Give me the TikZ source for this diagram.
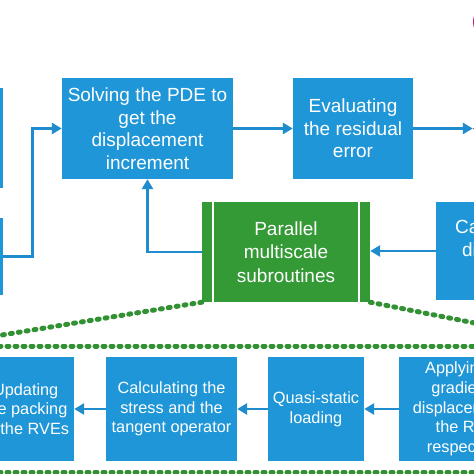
\documentclass[tikz,border=0pt]{standalone}
\usepackage{fontspec}
\setmainfont{Liberation Sans}
\usetikzlibrary{arrows.meta,shapes.geometric}
\definecolor{boxblue}{RGB}{31,150,215}
\definecolor{lineblue}{RGB}{30,140,205}
\definecolor{boxgreen}{RGB}{52,154,54}
\definecolor{dashgreen}{RGB}{50,145,50}
\definecolor{magent}{RGB}{190,30,115}
\begin{document}
\begin{tikzpicture}[x=1pt,y=-1pt,
  bigbox/.style={draw=none,fill=boxblue,text=white,align=center,inner sep=0pt,
    minimum height=101pt,font=\fontsize{19}{22.5}\selectfont},
  smallbox/.style={draw=none,fill=boxblue,text=white,align=center,inner sep=0pt,
    minimum height=104pt,font=\fontsize{16.3}{19.7}\selectfont},
  greenbox/.style={draw=none,fill=boxgreen,text=white,align=center,inner sep=0pt,
    minimum width=168pt,minimum height=100pt,font=\fontsize{19}{23.5}\selectfont},
  conn/.style={lineblue,line width=2.6pt,-{Triangle[length=10pt,width=11pt]}},
  dots/.style={dashgreen,line width=5pt,line cap=round,dash pattern=on 2pt off 6pt}]
\useasboundingbox (0,0) rectangle (474,474);
\clip (0,0) rectangle (474,474);
\fill[white] (0,0) rectangle (474,474);

% top row
\node[bigbox,minimum width=171pt] (solve) at (147.5,128.5)
  {Solving the PDE to\\get the\\displacement\\increment};
\node[bigbox,minimum width=120pt] (eval) at (353,128.5)
  {Evaluating\\the residual\\error};
\node[diamond,fill=magent,minimum size=40pt,inner sep=0pt] (dec) at (493,128.5) {};
\node[circle,fill=magent,minimum size=36pt,inner sep=0pt] (endc) at (491,22) {};

% left boxes (cut off)
\node[bigbox,minimum width=103pt,minimum height=100pt] (leftA) at (-48.5,138) {};
\node[bigbox,minimum width=103pt,minimum height=77pt] (leftB) at (-48.5,256.5) {};

% middle row
\node[greenbox] (par) at (286,252) {Parallel\\multiscale\\subroutines};
\draw[white,line width=1.5pt] ([xshift=11pt]par.north west) -- ([xshift=11pt]par.south west);
\draw[white,line width=1.5pt] ([xshift=-11pt]par.north east) -- ([xshift=-11pt]par.south east);
\node[bigbox,minimum width=164pt,minimum height=98pt] (calcd) at (518,251) {};
\node[text=white,align=center,inner sep=0pt,font=\fontsize{19}{23.5}\selectfont]
  (calcdtxt) at (518,240) {Calculating the\\displacement};

% bottom row
\node[smallbox,minimum width=96.6pt] (upd) at (25.7,409)
  {Updating\\the packing\\of the RVEs};
\node[smallbox,minimum width=131pt] (calcs) at (171.5,409)
  {Calculating the\\stress and the\\tangent operator};
\node[smallbox,minimum width=96pt] (quasi) at (316,409)
  {Quasi-static\\loading};
\node[smallbox,minimum width=142pt] (apply) at (470,409)
  {Applying the\\gradient of\\displacement to\\the RVEs\\respectively};

% connectors
\draw[conn] (solve.east) -- (eval.west);
\draw[conn] (eval.east) -- (dec.west);
\draw[conn] (leftB.east) -- ++(29,0) |- (solve.west);
\draw[conn] (par.west) -| (solve.south);
\draw[conn] (calcd.west) -- (calcd.west -| par.east);
\draw[conn] (apply.west) -- (quasi.east);
\draw[conn] (quasi.west) -- (calcs.east);
\draw[conn] (calcs.west) -- (upd.east);

% dotted zoom frame
\coordinate (fl) at (-65,346);
\coordinate (fr) at (590,346);
\coordinate (bl) at (-65,472);
\coordinate (br) at (590,472);
\draw[dots] (fl) -- (fr);
\draw[dots] (bl) -- (br);
\draw[dots] (par.south west) -- (fl);
\draw[dots] (par.south east) -- (fr);
\end{tikzpicture}
\end{document}
